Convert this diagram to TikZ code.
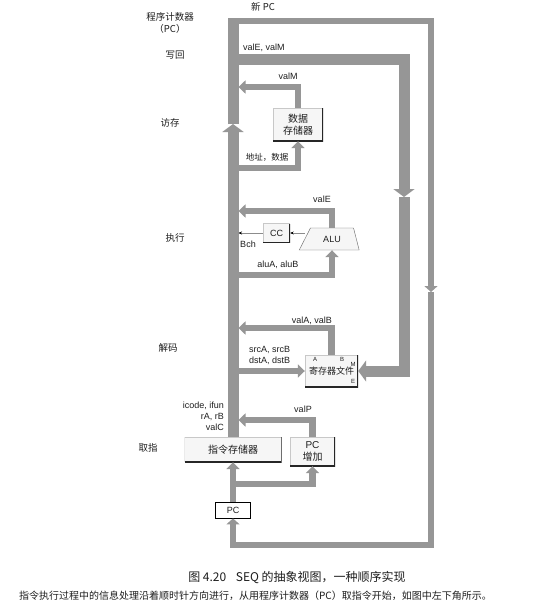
\documentclass[tikz,border=0pt]{standalone}
\usepackage{fontspec}
\setsansfont{Liberation Sans}
\newfontfamily\cjk{Noto Sans CJK SC}
\usetikzlibrary{shapes.geometric, arrows.meta}
\definecolor{busgray}{RGB}{150, 150, 150}
\definecolor{boxfill}{RGB}{246, 246, 246}
\definecolor{boxedge}{RGB}{200, 200, 200}
\definecolor{textdark}{RGB}{30, 30, 30}

\begin{document}
\begin{tikzpicture}[
    x=1pt, y=-1pt,
    unit/.style={rectangle, fill=boxfill, text=textdark, inner sep=0pt, align=center, font=\cjk\fontsize{10}{12}\selectfont,
        path picture={
            \draw[boxedge, line width=1.2pt] (path picture bounding box.south west) -- (path picture bounding box.north west) -- (path picture bounding box.north east);
            \draw[black!85, line width=2pt] (path picture bounding box.north east) -- (path picture bounding box.south east) -- (path picture bounding box.south west);
        }},
    alubox/.style={trapezium, trapezium left angle=54, trapezium right angle=70, trapezium stretches=true, draw=black!60, fill=boxfill, inner sep=0pt, minimum width=60pt, minimum height=22pt, font=\sffamily\fontsize{9}{11}\selectfont, text=textdark},
    pcbox/.style={rectangle, draw=black, fill=white, line width=0.8pt, minimum width=35pt, minimum height=16pt, inner sep=0pt, font=\sffamily\fontsize{9}{11}\selectfont, text=textdark},
    stage/.style={font=\cjk\fontsize{9.5}{12}\selectfont, text=textdark, align=center, inner sep=0pt},
    sig/.style={font=\sffamily\fontsize{9}{11}\selectfont, text=textdark, inner sep=0pt},
    port/.style={font=\sffamily\fontsize{6}{7}\selectfont, text=textdark, inner sep=0pt},
    bus/.style={draw=busgray, line width=11pt},
    wire/.style={draw=busgray, line width=6.5pt},
    loopwire/.style={draw=busgray, line width=6pt},
    busarrow/.style={bus, -{Triangle[width=21pt, length=8pt]}},
    wirearrow/.style={wire, -{Triangle[width=13pt, length=7pt]}},
    looparrow/.style={loopwire, -{Triangle[width=13pt, length=6pt]}},
    thinarrow/.style={draw=black!45, line width=0.5pt, -{Stealth[length=3.5pt, width=3pt, black]}},
]
\path[use as bounding box, fill=white] (0,0) rectangle (552,611);

% Stage names
\node[stage] (pcstage) at (170,23) {程序计数器\\（PC）};
\node[stage] (wbstage) at (175,55) {写回};
\node[stage] (memstage) at (170,123) {访存};
\node[stage] (exstage) at (175,238) {执行};
\node[stage] (idstage) at (168,348) {解码};
\node[stage] (ifstage) at (148,448) {取指};

% Fetch
\node[unit, minimum width=97pt, minimum height=25pt] (imem) at (233,449.5) {指令存储器};
\node[unit, minimum width=45pt, minimum height=29pt] (pcinc) at (312.5,451.5) {{\sffamily PC}\\增加};
\node[pcbox] (pc) at (233,510) {PC};

% Decode
\node[unit, minimum width=53pt, minimum height=32pt, font=\cjk\fontsize{9}{11}\selectfont] (regf) at (331.5,371) {寄存器文件};
\node[port] (porta) at (315,359) {A};
\node[port] (portb) at (342,359) {B};
\node[port] (portm) at (353,364) {M};
\node[port] (porte) at (353,381) {E};

% Execute
\node[alubox] (alu) at (332,239) {ALU};
\node[unit, minimum width=27pt, minimum height=19pt, font=\sffamily\fontsize{9}{11}\selectfont] (cc) at (276.5,233) {CC};

% Memory
\node[unit, minimum width=50pt, minimum height=33pt] (dmem) at (298,124.5) {数据\\存储器};

% Bus points
\coordinate (lbtop) at (233,17.5);
\coordinate (lbarrow) at (233,124);
\coordinate (npc) at (233,20.5);
\coordinate (npcarrow) at (431,292);
\coordinate (npcbot) at (233,545);
\coordinate (wbstart) at (233,59);
\coordinate (wbarrow) at (404,197);
\coordinate (memout) at (238.5,87);
\coordinate (memin) at (233,168);
\coordinate (aluout) at (238.5,211);
\coordinate (ccout) at (238.5,233);
\coordinate (aluin) at (233,275);
\coordinate (regout) at (238.5,328);
\coordinate (regin) at (233,371);
\coordinate (pcout) at (238.5,420);
\coordinate (pcsplit) at (233,484);

% Main bus and new PC loop
\draw[busarrow] (imem.north) -- (lbarrow);
\draw[bus] (lbarrow) -- (lbtop);
\draw[looparrow] (npc) -| (npcarrow);
\draw[looparrow] (npcarrow) |- (npcbot) -- (pc.south);

% Write back loop
\draw[busarrow] (wbstart) -| (wbarrow);
\draw[busarrow] (wbarrow) |- (regf.east);

% Stage connections
\draw[wirearrow] (dmem.north) |- (memout);
\draw[wirearrow] (memin) -| (dmem.south);
\draw[wirearrow] (alu.north) |- (aluout);
\draw[wirearrow] (aluin) -| (alu.south);
\draw[thinarrow] (alu.west |- cc.east) -- (cc.east);
\draw[thinarrow] (cc.west) -- (ccout);
\draw[wirearrow] (regf.north) |- (regout);
\draw[wirearrow] (regin) -- (regf.west);
\draw[wirearrow] (pcinc.north) |- (pcout);
\draw[wirearrow] (pc.north) -- (imem.south);
\draw[wirearrow] (pcsplit) -| (pcinc.south);

% Signal labels
\node[stage] (newpc) at (263,7) {新 PC};
\node[sig, anchor=west] (valem) at (243,48) {valE, valM};
\node[sig] (valm) at (288,76) {valM};
\node[stage, font=\cjk\fontsize{8.5}{10}\selectfont] (addr) at (267,157) {地址，数据};
\node[sig] (vale) at (322,199) {valE};
\node[sig] (bch) at (248,244) {Bch};
\node[sig] (aluab) at (278,265) {aluA, aluB};
\node[sig] (valab) at (312,321) {valA, valB};
\node[sig, anchor=west, align=left] (srcdst) at (249,355) {srcA, srcB\\dstA, dstB};
\node[sig] (valp) at (303,409) {valP};
\node[sig, anchor=east, align=right] (icode) at (224,416) {icode, ifun\\rA, rB\\valC};

% Caption
\node[font=\cjk\fontsize{12}{14}\selectfont, text=textdark] (title) at (297,578) {图 4.20\hspace{0.8em}SEQ 的抽象视图，一种顺序实现};
\node[font=\cjk\fontsize{10}{12}\selectfont, text=textdark] (note) at (255.5,596) {指令执行过程中的信息处理沿着顺时针方向进行，从用程序计数器（PC）取指令开始，如图中左下角所示。};

\end{tikzpicture}
\end{document}
